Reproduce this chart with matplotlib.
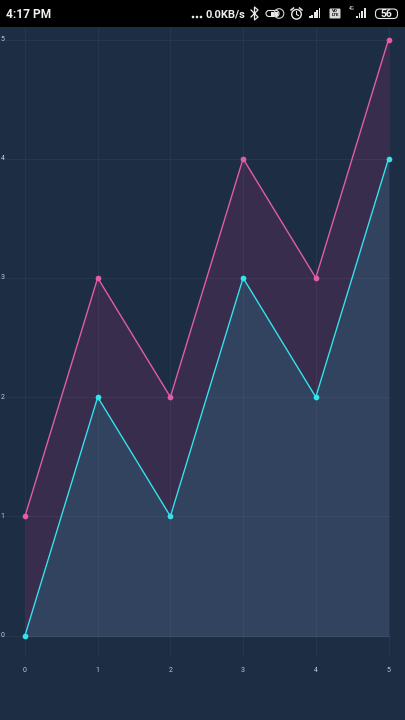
import matplotlib
matplotlib.use('Agg')
import matplotlib.pyplot as plt
from matplotlib.patches import Rectangle, FancyBboxPatch, Circle

x_vals = [0, 1, 2, 3, 4, 5]
pink_vals = [1, 3, 2, 4, 3, 5]
cyan_vals = [0, 2, 1, 3, 2, 4]
y_ticks = [0, 1, 2, 3, 4, 5]
clock_text = '4:17 PM'
speed_text = '0.0KB/s'
battery_text = '56'

BG = '#1d2d44'
PINK = '#e25caa'
CYAN = '#33e3ec'

W, H = 405, 720
fig = plt.figure(figsize=(W / 100, H / 100), dpi=100, facecolor=BG)
plt.rcParams['font.family'] = ['Roboto', 'DejaVu Sans']

# chart axes fills the whole figure, limits chosen so 0..5 lands on the pixel positions
ax = fig.add_axes([0, 0, 1, 1])
ax.set_facecolor(BG)
px_x = (388.5 - 25) / 5
px_y = (635.5 - 39.5) / 5
ax.set_xlim(-25 / px_x, (W - 25) / px_x)
ax.set_ylim(-(H - 635.5) / px_y, 635.5 / px_y)

ax.fill_between(x_vals, cyan_vals, pink_vals, color='#392d4d', lw=0, zorder=1)
ax.fill_between(x_vals, 0, cyan_vals, color='#31435e', lw=0, zorder=1)

for v in x_vals:
    ax.plot([v, v], [-(656 - 635.5) / px_y, 5.2], color='white', alpha=0.045, lw=0.8, zorder=2)
for v in y_ticks:
    ax.plot([-25 / px_x, 5], [v, v], color='white', alpha=0.045, lw=0.8, zorder=2)
ax.plot([0, 5], [0, 0], color='#3c4d66', lw=0.8, zorder=3)

ax.plot(x_vals, pink_vals, color=PINK, lw=1.0, zorder=4)
ax.plot(x_vals, cyan_vals, color=CYAN, lw=1.0, zorder=4)
ax.scatter(x_vals, pink_vals, s=17, color=PINK, lw=0, zorder=5)
ax.scatter(x_vals, cyan_vals, s=17, color=CYAN, lw=0, zorder=5)

for v in x_vals:
    ax.text(v, -(670.5 - 635.5) / px_y, str(v), color='#c3cad4', fontsize=5,
            ha='center', va='center', zorder=6)
for v in y_ticks:
    ax.text(-22.5 / px_x, v, str(v), color='#c3cad4', fontsize=5,
            ha='center', va='center', zorder=6)
ax.axis('off')

# status bar, drawn in pixel coordinates
bar = fig.add_axes([0, 0, 1, 1])
bar.set_xlim(0, W)
bar.set_ylim(H, 0)
bar.axis('off')
bar.patch.set_alpha(0)
bar.add_patch(Rectangle((0, 0), W, 27, color='black', lw=0))
bar.text(6, 14, clock_text, color='#f2f2f2', fontsize=8.6, fontweight='bold', va='center')
for dot_x in (193, 197, 201):
    bar.add_patch(Circle((dot_x, 17), 1.3, color='#e8e8e8', lw=0))
bar.text(205, 14, speed_text, color='#efefef', fontsize=8, fontweight='bold', va='center')

# bluetooth
bar.plot([251, 258, 254.5, 254.5, 258, 251], [10, 17, 20, 7, 10, 17], color='#e8e8e8', lw=0.9)

# toggle pill
bar.add_patch(FancyBboxPatch((266, 10.5), 13, 6, boxstyle='round,pad=0,rounding_size=3',
                             fc='black', ec='#e8e8e8', lw=0.8))
bar.add_patch(Rectangle((271, 11.5), 7, 4, color='#e8e8e8', lw=0))
bar.add_patch(Circle((279, 13.5), 4.8, fc='none', ec='#cfcfcf', lw=0.8))

# alarm clock
bar.add_patch(Circle((296.5, 14.3), 4.8, fc='none', ec='#e8e8e8', lw=1.0))
bar.plot([296.5, 296.5, 298.5], [11.5, 14.5, 15.5], color='#e8e8e8', lw=0.8)
bar.plot([291, 293.5], [10, 8], color='#e8e8e8', lw=1.1)
bar.plot([302, 299.5], [10, 8], color='#e8e8e8', lw=1.1)

# signal bars
for i, h in enumerate([2, 3, 6, 8, 10]):
    bar.add_patch(Rectangle((309 + i * 2.4, 18 - h), 1.7, h, color='#e8e8e8', lw=0))

# volte box
bar.add_patch(FancyBboxPatch((329.5, 8.5), 11, 10, boxstyle='round,pad=0,rounding_size=1',
                             fc='#d8d8d8', ec='none'))
bar.text(335, 11, 'VO', color='black', fontsize=3.2, ha='center', va='center', fontweight='bold')
bar.text(335, 15.5, 'LTE', color='black', fontsize=3.2, ha='center', va='center', fontweight='bold')

# second signal
bar.text(351.5, 9, '4G', color='#e8e8e8', fontsize=3.4, ha='center', va='center')
for i, h in enumerate([2, 5, 7, 10]):
    bar.add_patch(Rectangle((356 + i * 2.6, 18 - h), 1.8, h, color='#e8e8e8', lw=0))

# battery
bar.add_patch(FancyBboxPatch((375.5, 9), 22, 9.5, boxstyle='round,pad=0,rounding_size=4',
                             fc='black', ec='#e8e8e8', lw=0.8))
bar.text(386.5, 13.8, battery_text, color='#efefef', fontsize=7.5, fontweight='bold',
         ha='center', va='center')

fig.savefig('out.png', dpi=100, facecolor=BG)
